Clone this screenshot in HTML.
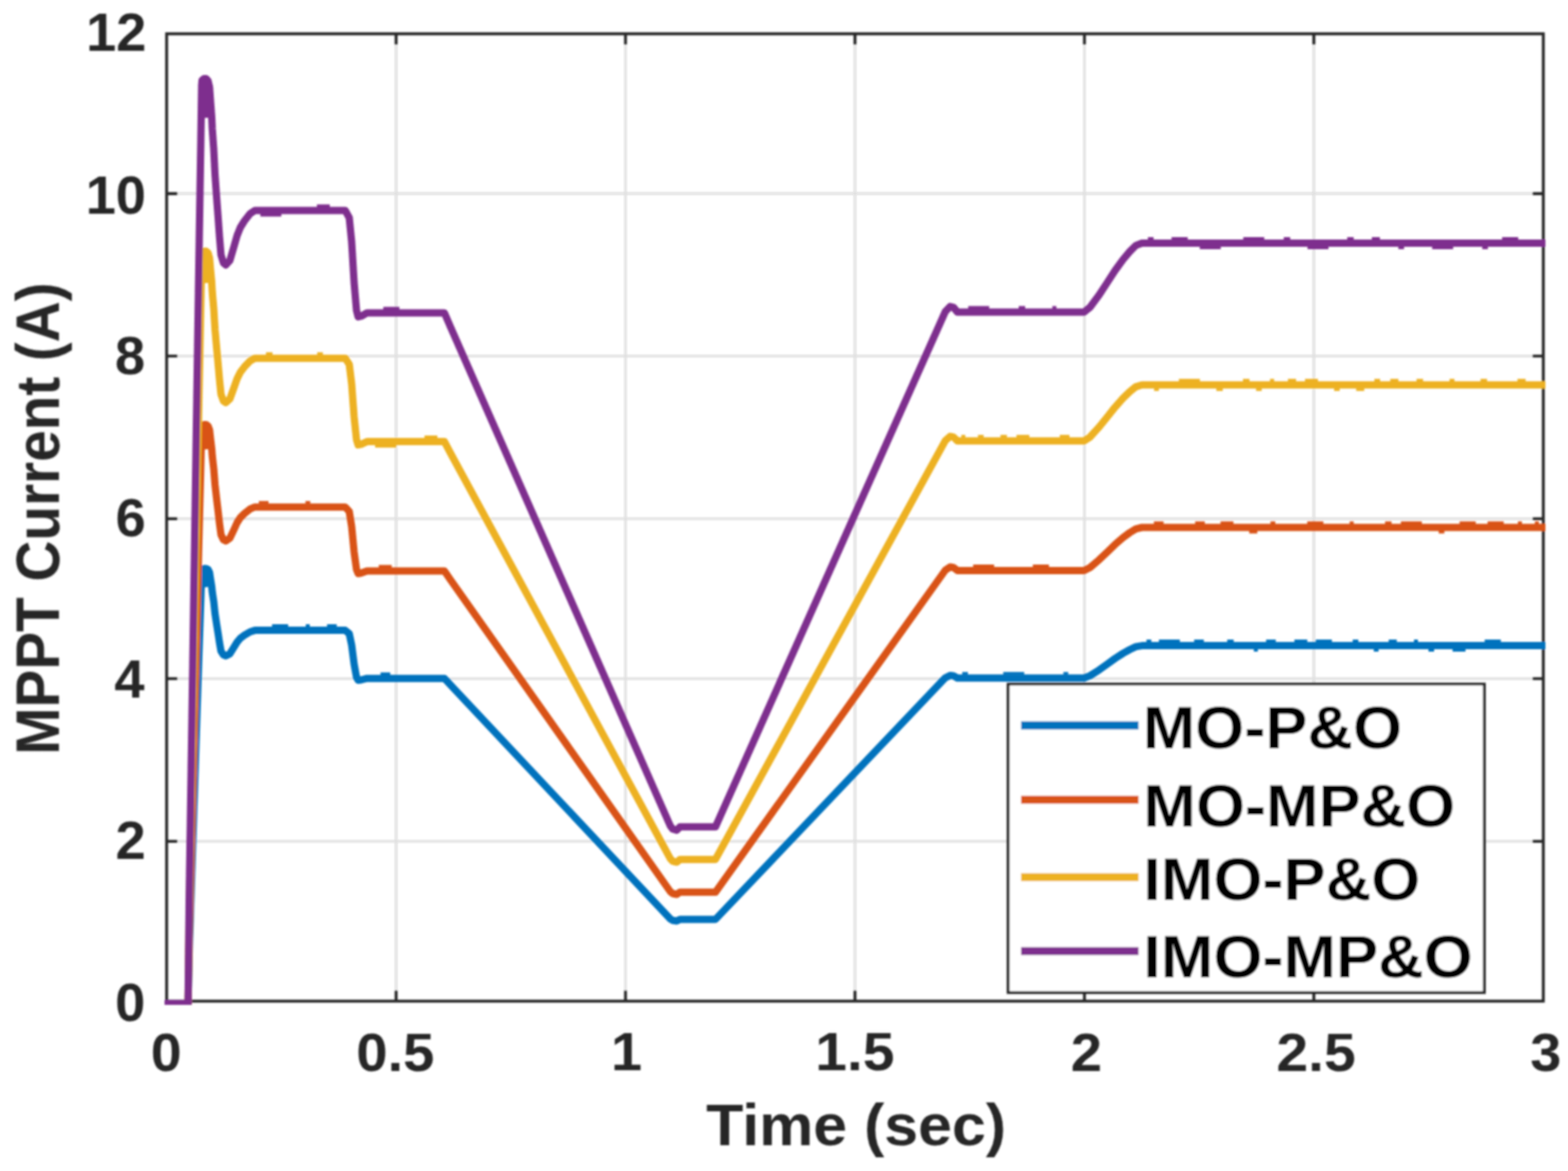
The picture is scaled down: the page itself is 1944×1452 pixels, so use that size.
<!DOCTYPE html>
<html><head><meta charset="utf-8"><style>html,body{margin:0;padding:0;background:#fff;}svg{display:block;}</style></head><body>
<svg width="1944" height="1452" viewBox="0 0 1944 1452">
<rect width="1944" height="1452" fill="#fff"/>
<defs><clipPath id="c"><rect x="203" y="38" width="1713" height="1208"/></clipPath><filter id="b" x="0" y="0" width="100%" height="100%" filterUnits="userSpaceOnUse"><feGaussianBlur stdDeviation="1.0"/></filter></defs>
<g filter="url(#b)">
<path d="M491.1,41.9 V1241.4 M775.5,41.9 V1241.4 M1060.0,41.9 V1241.4 M1344.5,41.9 V1241.4 M1628.9,41.9 V1241.4 M206.6,1043.2 H1913.4 M206.6,841.5 H1913.4 M206.6,643.2 H1913.4 M206.6,441.5 H1913.4 M206.6,240.1 H1913.4" stroke="#262626" stroke-opacity="0.15" stroke-width="3" fill="none"/>
<path d="M491.1,1241.4 v-13 M491.1,41.9 v13 M775.5,1241.4 v-13 M775.5,41.9 v13 M1060.0,1241.4 v-13 M1060.0,41.9 v13 M1344.5,1241.4 v-13 M1344.5,41.9 v13 M1628.9,1241.4 v-13 M1628.9,41.9 v13 M206.6,1043.2 h13 M1913.4,1043.2 h-13 M206.6,841.5 h13 M1913.4,841.5 h-13 M206.6,643.2 h13 M1913.4,643.2 h-13 M206.6,441.5 h13 M1913.4,441.5 h-13 M206.6,240.1 h13 M1913.4,240.1 h-13" stroke="#262626" stroke-width="3.6" fill="none"/>
<rect x="206.6" y="41.9" width="1706.8" height="1199.5" fill="none" stroke="#262626" stroke-width="3.6"/>
<g clip-path="url(#c)" fill="none" stroke-width="9" stroke-linejoin="round" stroke-linecap="butt">
<path d="M204.0,1244.5 L233.3,1244.5 L233.3,1238.9 L234.5,1183.5 L239.2,1039.1 L243.3,912.4 L246.5,814.0 L249.0,740.8 L250.0,708.9 L250.5,705.8 L253.0,704.9 L255.5,704.9 L258.0,706.3 L259.8,709.8 L261.0,717.8 L262.5,727.2 L263.2,734.2 L265.0,745.9 L266.6,761.0 L268.6,774.1 L270.4,785.3 L272.1,796.6 L274.0,807.4 L277.0,812.1 L280.0,813.2 L285.0,810.7 L290.0,802.7 L294.0,796.1 L298.0,791.4 L303.0,787.7 L310.0,783.5 L316.0,781.6 L428.0,781.6 L433.0,785.8 L436.0,799.9 L439.0,823.3 L442.0,839.7 L444.0,843.5 L448.0,843.0 L455.0,841.2 L551.0,841.2 L558.0,848.8 L831.0,1139.4 L834.0,1141.3 L839.0,1142.0 L843.0,1140.0 L887.0,1140.0 L1172.0,840.4 L1178.0,837.4 L1182.0,837.9 L1187.0,840.7 L1344.0,840.7 L1351.4,837.9 L1362.7,830.7 L1372.6,823.6 L1382.4,816.5 L1392.3,810.1 L1400.6,805.5 L1408.2,801.9 L1415.8,800.6 L1916.0,800.6 M251.5,708.9 L256.0,719.2 L257.5,727.7" stroke="#0072BD"/>
<path d="M337.3,774.1h20v3.5h-20z M379.1,774.1h5v3.5h-5z M405.5,774.1h12v3.5h-12z M471.8,833.7h12v3.5h-12z M1193.0,833.2h7v3.5h-7z M1243.8,833.2h26v3.5h-26z M1318.4,833.2h6v3.5h-6z M1421.4,793.1h6v3.5h-6z M1436.8,793.1h26v3.5h-26z M1480.5,793.1h12v3.5h-12z M1521.5,793.1h8v3.5h-8z M1554.5,804.6h5v3.5h-5z M1569.7,793.1h12v3.5h-12z M1604.8,793.1h16v3.5h-16z M1631.3,793.1h20v3.5h-20z M1677.1,793.1h7v3.5h-7z M1703.2,804.6h6v3.5h-6z M1721.7,793.1h10v3.5h-10z M1753.0,793.1h5v3.5h-5z M1771.0,804.6h7v3.5h-7z M1800.9,804.6h16v3.5h-16z M1840.7,793.1h20v3.5h-20z" fill="#0072BD" stroke="none"/>
<path d="M204.0,1244.5 L233.3,1244.5 L233.3,1238.0 L234.5,1164.3 L239.2,971.8 L243.3,803.0 L246.5,671.8 L249.0,574.3 L250.0,531.8 L250.5,527.7 L253.0,526.5 L255.5,526.5 L258.0,528.3 L259.8,533.0 L261.0,543.7 L262.5,556.2 L263.2,565.5 L265.0,581.2 L266.6,601.2 L268.6,618.7 L270.4,633.7 L272.1,648.7 L274.0,663.0 L277.0,669.3 L280.0,670.8 L285.0,667.4 L290.0,656.8 L294.0,648.0 L298.0,641.8 L303.0,636.8 L310.0,631.2 L316.0,628.7 L428.0,628.7 L433.0,634.3 L436.0,653.0 L439.0,684.3 L442.0,706.2 L444.0,711.2 L448.0,710.5 L455.0,708.0 L551.0,708.0 L558.0,718.2 L831.0,1105.5 L834.0,1108.0 L839.0,1109.0 L843.0,1106.3 L887.0,1106.3 L1172.0,707.0 L1178.0,703.0 L1182.0,703.7 L1187.0,707.4 L1344.0,707.4 L1351.4,703.7 L1362.7,694.1 L1372.6,684.7 L1382.4,675.2 L1392.3,666.6 L1400.6,660.5 L1408.2,655.8 L1415.8,654.0 L1916.0,654.0 M251.5,531.8 L256.0,545.5 L257.5,556.8" stroke="#D95319"/>
<path d="M320.9,621.2h12v3.5h-12z M378.7,621.2h6v3.5h-6z M469.6,700.5h16v3.5h-16z M1206.5,699.9h26v3.5h-26z M1280.5,699.9h20v3.5h-20z M1430.6,646.5h12v3.5h-12z M1481.7,646.5h12v3.5h-12z M1513.2,646.5h16v3.5h-16z M1548.8,658.0h10v3.5h-10z M1575.1,646.5h6v3.5h-6z M1620.7,646.5h20v3.5h-20z M1673.3,646.5h5v3.5h-5z M1717.2,646.5h8v3.5h-8z M1736.8,646.5h26v3.5h-26z M1783.7,658.0h7v3.5h-7z M1809.6,646.5h20v3.5h-20z M1844.3,646.5h20v3.5h-20z M1881.9,646.5h5v3.5h-5z M1902.9,646.5h5v3.5h-5z" fill="#D95319" stroke="none"/>
<path d="M204.0,1244.5 L233.3,1244.5 L233.3,1237.0 L234.5,1141.1 L239.2,890.7 L243.3,671.2 L246.5,500.4 L249.0,373.6 L250.0,318.3 L250.5,313.0 L253.0,311.4 L255.5,311.4 L258.0,313.8 L259.8,319.9 L261.0,333.8 L262.5,350.0 L263.2,362.2 L265.0,382.5 L266.6,408.6 L268.6,431.3 L270.4,450.8 L272.1,470.4 L274.0,489.0 L277.0,497.2 L280.0,499.2 L285.0,494.7 L290.0,480.9 L294.0,469.5 L298.0,461.4 L303.0,454.9 L310.0,447.6 L316.0,444.3 L428.0,444.3 L433.0,451.7 L436.0,476.0 L439.0,516.7 L442.0,545.1 L444.0,551.7 L448.0,550.8 L455.0,547.6 L551.0,547.6 L558.0,560.8 L831.0,1064.7 L834.0,1067.9 L839.0,1069.1 L843.0,1065.7 L887.0,1065.7 L1172.0,546.3 L1178.0,541.1 L1182.0,541.9 L1187.0,546.8 L1344.0,546.8 L1351.4,541.9 L1362.7,529.5 L1372.6,517.2 L1382.4,504.9 L1392.3,493.8 L1400.6,485.8 L1408.2,479.6 L1415.8,477.3 L1916.0,477.3 M251.5,318.3 L256.0,336.2 L257.5,350.8" stroke="#EDB120"/>
<path d="M329.8,436.8h8v3.5h-8z M393.3,436.8h7v3.5h-7z M465.1,551.6h26v3.5h-26z M526.3,540.1h16v3.5h-16z M1191.8,539.3h5v3.5h-5z M1212.5,539.3h7v3.5h-7z M1240.4,539.3h8v3.5h-8z M1260.2,539.3h16v3.5h-16z M1313.9,539.3h12v3.5h-12z M1430.8,481.3h6v3.5h-6z M1461.6,469.8h26v3.5h-26z M1508.0,481.3h8v3.5h-8z M1541.1,469.8h8v3.5h-8z M1557.3,481.3h7v3.5h-7z M1574.6,469.8h5v3.5h-5z M1596.8,469.8h10v3.5h-10z M1618.0,469.8h16v3.5h-16z M1654.0,481.3h7v3.5h-7z M1681.4,481.3h10v3.5h-10z M1704.0,469.8h7v3.5h-7z M1723.7,469.8h10v3.5h-10z M1756.3,469.8h8v3.5h-8z M1797.2,469.8h6v3.5h-6z M1835.6,469.8h8v3.5h-8z M1881.4,469.8h10v3.5h-10z" fill="#EDB120" stroke="none"/>
<path d="M204.0,1244.5 L233.3,1244.5 L233.3,1236.0 L234.5,1118.0 L239.2,810.0 L243.3,540.0 L246.5,330.0 L249.0,174.0 L250.0,106.0 L250.5,99.5 L253.0,97.5 L255.5,97.5 L258.0,100.5 L259.8,108.0 L261.0,125.0 L262.5,145.0 L263.2,160.0 L265.0,185.0 L266.6,217.0 L268.6,245.0 L270.4,269.0 L272.1,293.0 L274.0,316.0 L277.0,326.0 L280.0,328.5 L285.0,323.0 L290.0,306.0 L294.0,292.0 L298.0,282.0 L303.0,274.0 L310.0,265.0 L316.0,261.0 L428.0,261.0 L433.0,270.0 L436.0,300.0 L439.0,350.0 L442.0,385.0 L444.0,393.0 L448.0,392.0 L455.0,388.0 L551.0,388.0 L558.0,404.3 L831.0,1024.0 L834.0,1028.0 L839.0,1029.5 L843.0,1025.3 L887.0,1025.3 L1172.0,386.4 L1178.0,380.0 L1182.0,381.0 L1187.0,387.0 L1344.0,387.0 L1351.4,381.0 L1362.7,365.8 L1372.6,350.6 L1382.4,335.5 L1392.3,321.8 L1400.6,312.0 L1408.2,304.4 L1415.8,301.5 L1916.0,301.5 M251.5,106.0 L256.0,128.0 L257.5,146.0" stroke="#7E2F8E"/>
<path d="M322.8,265.0h26v3.5h-26z M392.9,253.5h16v3.5h-16z M475.2,380.5h20v3.5h-20z M1200.4,379.5h26v3.5h-26z M1263.0,379.5h8v3.5h-8z M1304.7,379.5h5v3.5h-5z M1423.2,294.0h7v3.5h-7z M1452.5,294.0h20v3.5h-20z M1487.5,305.5h26v3.5h-26z M1541.4,294.0h26v3.5h-26z M1591.6,294.0h8v3.5h-8z M1621.1,305.5h26v3.5h-26z M1670.3,294.0h8v3.5h-8z M1700.8,294.0h10v3.5h-10z M1733.7,305.5h7v3.5h-7z M1775.6,305.5h26v3.5h-26z M1837.7,305.5h7v3.5h-7z M1862.3,294.0h20v3.5h-20z" fill="#7E2F8E" stroke="none"/>
</g>
<text transform="translate(142.77,1266.32) scale(1.0200,1)" font-family="Liberation Sans, Arial, sans-serif" font-weight="bold" font-size="66" fill="#262626">0</text>
<text transform="translate(143.19,1064.70) scale(1.0200,1)" font-family="Liberation Sans, Arial, sans-serif" font-weight="bold" font-size="66" fill="#262626">2</text>
<text transform="translate(141.77,865.47) scale(1.0200,1)" font-family="Liberation Sans, Arial, sans-serif" font-weight="bold" font-size="66" fill="#262626">4</text>
<text transform="translate(143.19,665.22) scale(1.0200,1)" font-family="Liberation Sans, Arial, sans-serif" font-weight="bold" font-size="66" fill="#262626">6</text>
<text transform="translate(142.52,463.52) scale(1.0200,1)" font-family="Liberation Sans, Arial, sans-serif" font-weight="bold" font-size="66" fill="#262626">8</text>
<text transform="translate(106.17,265.22) scale(1.0200,1)" font-family="Liberation Sans, Arial, sans-serif" font-weight="bold" font-size="66" fill="#262626">10</text>
<text transform="translate(106.67,63.20) scale(1.0200,1)" font-family="Liberation Sans, Arial, sans-serif" font-weight="bold" font-size="66" fill="#262626">12</text>
<text transform="translate(187.05,1327.72) scale(1.0413,1)" font-family="Liberation Sans, Arial, sans-serif" font-weight="bold" font-size="66" fill="#262626">0</text>
<text transform="translate(441.71,1327.77) scale(1.0560,1)" font-family="Liberation Sans, Arial, sans-serif" font-weight="bold" font-size="66" fill="#262626">0.5</text>
<text transform="translate(757.41,1327.27) scale(1.0500,1)" font-family="Liberation Sans, Arial, sans-serif" font-weight="bold" font-size="66" fill="#262626">1</text>
<text transform="translate(1010.86,1327.44) scale(1.0699,1)" font-family="Liberation Sans, Arial, sans-serif" font-weight="bold" font-size="66" fill="#262626">1.5</text>
<text transform="translate(1327.41,1328.10) scale(1.0575,1)" font-family="Liberation Sans, Arial, sans-serif" font-weight="bold" font-size="66" fill="#262626">2</text>
<text transform="translate(1582.38,1327.87) scale(1.0731,1)" font-family="Liberation Sans, Arial, sans-serif" font-weight="bold" font-size="66" fill="#262626">2.5</text>
<text transform="translate(1897.22,1327.87) scale(1.0455,1)" font-family="Liberation Sans, Arial, sans-serif" font-weight="bold" font-size="66" fill="#262626">3</text>
<text transform="translate(875.45,1420.20) scale(1.0340,1)" font-family="Liberation Sans, Arial, sans-serif" font-weight="bold" font-size="73" fill="#262626">Time (sec)</text>
<text transform="translate(73.10,935.85) scale(1.09,1) rotate(-90)" font-family="Liberation Sans, Arial, sans-serif" font-weight="bold" font-size="70.3" fill="#262626">MPPT Current (A)</text>
<rect x="1249.9" y="848.3" width="590.4" height="382.4" fill="#fff" stroke="#262626" stroke-width="3.5"/>
<path d="M1265.9,899.5 H1411.5" stroke="#0072BD" stroke-width="9.8"/>
<text transform="translate(1416.72,928.20) scale(1.0570,1)" font-family="Liberation Sans, Arial, sans-serif" font-weight="bold" font-size="74" fill="#000">MO-P&amp;O</text>
<path d="M1265.9,991.6 H1411.5" stroke="#D95319" stroke-width="9.8"/>
<text transform="translate(1417.52,1024.50) scale(1.0570,1)" font-family="Liberation Sans, Arial, sans-serif" font-weight="bold" font-size="74" fill="#000">MO-MP&amp;O</text>
<path d="M1265.9,1087.6 H1411.5" stroke="#EDB120" stroke-width="9.8"/>
<text transform="translate(1417.52,1116.00) scale(1.0570,1)" font-family="Liberation Sans, Arial, sans-serif" font-weight="bold" font-size="74" fill="#000">IMO-P&amp;O</text>
<path d="M1265.9,1179.3 H1411.5" stroke="#7E2F8E" stroke-width="9.8"/>
<text transform="translate(1417.52,1211.70) scale(1.0570,1)" font-family="Liberation Sans, Arial, sans-serif" font-weight="bold" font-size="74" fill="#000">IMO-MP&amp;O</text>
</g>
</svg>
</body></html>
